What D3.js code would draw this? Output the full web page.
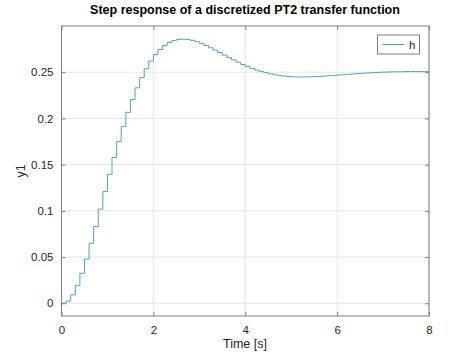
<!DOCTYPE html>
<html>
<head>
<meta charset="utf-8">
<script src="https://cdn.jsdelivr.net/npm/d3@7"></script>
<style>
  html, body { margin: 0; padding: 0; background: #fff; }
  svg { display: block; }
  text { font-family: "Liberation Sans", Arial, Helvetica, sans-serif; }
</style>
</head>
<body>
<svg id="chart" width="474" height="355"></svg>
<script>
// ---- data ----
const sampleTime = 0.1;
const values = [
  0.0000, 0.0024, 0.0091, 0.0194, 0.0325, 0.0479, 0.0650, 0.0831, 0.1019, 0.1208,
  0.1395, 0.1577, 0.1751, 0.1914, 0.2066, 0.2205, 0.2331, 0.2442, 0.2538, 0.2621,
  0.2690, 0.2745, 0.2789, 0.2821, 0.2842, 0.2855, 0.2858, 0.2855, 0.2845, 0.2831,
  0.2812, 0.2790, 0.2765, 0.2739, 0.2713, 0.2685, 0.2659, 0.2633, 0.2608, 0.2584,
  0.2562, 0.2542, 0.2524, 0.2509, 0.2495, 0.2483, 0.2473, 0.2465, 0.2459, 0.2454,
  0.2451, 0.2449, 0.2449, 0.2449, 0.2451, 0.2453, 0.2455, 0.2459, 0.2462, 0.2466,
  0.2470, 0.2473, 0.2477, 0.2481, 0.2485, 0.2488, 0.2491, 0.2494, 0.2497, 0.2499,
  0.2501, 0.2503, 0.2504, 0.2505, 0.2506, 0.2507, 0.2507, 0.2507, 0.2507, 0.2507,
  0.2507
];
const xTicks = [0, 2, 4, 6, 8];
const yTicks = [0, 0.05, 0.1, 0.15, 0.2, 0.25];
const yTickLabels = ["0", "0.05", "0.1", "0.15", "0.2", "0.25"];
const seriesName = "h";
const titleText = "Step response of a discretized PT2 transfer function";
const xLabelText = "Time [s]";
const yLabelText = "y1";

(function () {
// ---- layout ----
const svg = d3.select("#chart");
const pLeft = 61.5, pRight = 429, pTop = 26, pBottom = 316;
const x = d3.scaleLinear().domain([0, 8]).range([pLeft, pRight]);
const y = d3.scaleLinear().domain([-0.01375, 0.3]).range([pBottom, pTop]);

const boxColor = "#7f7f7f";
const gridColor = "#e6e6e6";
const lineColor = "#4f9fd3";

// grid
const g = svg.append("g");
g.selectAll(".vg").data(xTicks).enter().append("line")
  .attr("x1", d => x(d)).attr("x2", d => x(d))
  .attr("y1", pTop).attr("y2", pBottom)
  .attr("stroke", gridColor).attr("stroke-width", 1);
g.selectAll(".hg").data(yTicks).enter().append("line")
  .attr("x1", pLeft).attr("x2", pRight)
  .attr("y1", d => y(d)).attr("y2", d => y(d))
  .attr("stroke", gridColor).attr("stroke-width", 1);

// axes (ticks inward)
const xAxis = d3.axisBottom(x).tickValues(xTicks).tickSize(-4).tickPadding(10).tickFormat(d3.format("d"));
const xAxisTop = d3.axisTop(x).tickValues(xTicks).tickSize(-4).tickFormat("");
const yAxis = d3.axisLeft(y).tickValues(yTicks).tickSize(-4).tickPadding(8)
  .tickFormat((d, i) => yTickLabels[i]);
const yAxisRight = d3.axisRight(y).tickValues(yTicks).tickSize(-4).tickFormat("");

function styleAxis(sel) {
  sel.select(".domain").remove();
  sel.selectAll(".tick line").attr("stroke", boxColor);
  sel.selectAll(".tick text").attr("fill", "#262626").style("font-size", "11.5px")
    .style("font-family", '"Liberation Sans", Arial, sans-serif');
}
svg.append("g").attr("transform", `translate(0,${pBottom})`).call(xAxis).call(styleAxis);
svg.append("g").attr("transform", `translate(0,${pTop})`).call(xAxisTop).call(styleAxis);
svg.append("g").attr("transform", `translate(${pLeft},0)`).call(yAxis).call(styleAxis);
svg.append("g").attr("transform", `translate(${pRight},0)`).call(yAxisRight).call(styleAxis);

// stairs line
const pts = values.map((v, i) => [i * sampleTime, v]);
const line = d3.line().x(d => x(d[0])).y(d => y(d[1])).curve(d3.curveStepAfter);
svg.append("path").datum(pts)
  .attr("d", line).attr("fill", "none")
  .attr("stroke", lineColor).attr("stroke-width", 1);

// box
svg.append("rect").attr("x", pLeft).attr("y", pTop)
  .attr("width", pRight - pLeft).attr("height", pBottom - pTop)
  .attr("fill", "none").attr("stroke", boxColor).attr("stroke-width", 1);

// title & labels
svg.append("text").attr("x", 245).attr("y", 14)
  .attr("text-anchor", "middle").style("font-weight", "bold").style("font-size", "12.5px")
  .attr("fill", "#000").text(titleText);
svg.append("text").attr("x", 245).attr("y", 348)
  .attr("text-anchor", "middle").style("font-size", "12.5px")
  .attr("fill", "#262626").text(xLabelText);
svg.append("text").attr("transform", `translate(25,${(pTop + pBottom) / 2}) rotate(-90)`)
  .attr("text-anchor", "middle").style("font-size", "12.5px")
  .attr("fill", "#262626").text(yLabelText);

// legend
const lg = svg.append("g");
lg.append("rect").attr("x", 377.5).attr("y", 35).attr("width", 42).attr("height", 19)
  .attr("fill", "#fff").attr("stroke", boxColor).attr("stroke-width", 1);
lg.append("line").attr("x1", 382.5).attr("x2", 404).attr("y1", 44.5).attr("y2", 44.5)
  .attr("stroke", lineColor).attr("stroke-width", 1);
lg.append("text").attr("x", 409).attr("y", 49).style("font-size", "11.5px")
  .attr("fill", "#262626").text(seriesName);
})();
</script>
</body>
</html>
